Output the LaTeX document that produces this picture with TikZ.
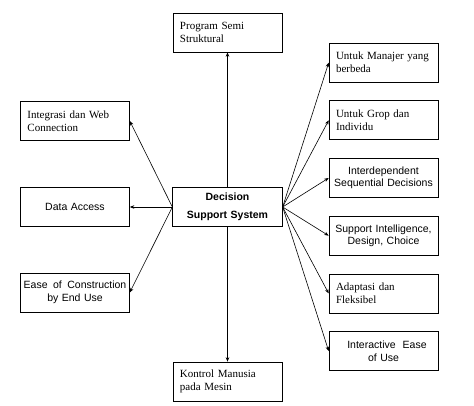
\documentclass[tikz,border=0pt]{standalone}
\usepackage{fontspec}
\setmainfont{Liberation Serif}
\setsansfont{Liberation Sans}
\usetikzlibrary{positioning,arrows.meta}
\def\boxwid{109pt}
\def\boxhgt{39pt}
\def\colgapl{152.5pt}
\def\colgapr{156pt}
\def\rowgap{57.7pt}

\begin{document}
\begin{tikzpicture}[
            on grid,
            txtbox/.style={%
                rectangle, draw=black, line width=0.6pt,%
                minimum width=\boxwid, minimum height=\boxhgt,%
                inner xsep=7pt, text width=95pt, align=left,%
                font=\rmfamily\fontsize{11}{13}\selectfont%
            },
            sansbox/.style={%
                rectangle, draw=black, line width=0.6pt,%
                minimum width=\boxwid, minimum height=\boxhgt,%
                inner xsep=2pt, text width=105pt, align=center,%
                font=\sffamily\fontsize{10.5}{12.5}\selectfont%
            },
            hub/.style={%
                rectangle, draw=black, line width=0.6pt,%
                minimum width=\boxwid, minimum height=\boxhgt,%
                text width=103pt, align=center,%
                font=\sffamily\bfseries\fontsize{10.5}{12}\selectfont%
            },
            arrow/.style={line width=0.6pt,-{Stealth[length=4.5pt,width=3.5pt]}}
        ]

        % Define nodes
        \node (dss) [hub] {%
            Decision\\[6pt]
            Support System
        };

        \node (prog) [txtbox, above=174.5pt of dss] {%
            Program Semi\\
            Struktural
        };
        \node (kontrol) [txtbox, below=174.5pt of dss] {%
            Kontrol Manusia\\
            pada Mesin
        };

        % left column
        \node (data) [sansbox, left=\colgapl of dss] {Data Access};
        \node (integ) [txtbox, above=86pt of data] {%
            Integrasi dan Web\\
            Connection
        };
        \node (ease) [sansbox, below=85.5pt of data] {%
            \mbox{Ease\hspace{2pt} of\hspace{2pt} Construction}\\
            by End Use
        };

        % right column
        \node (interdep) [sansbox, above right=29pt and \colgapr of dss] {%
            Interdependent\\
            Sequential Decisions
        };
        \node (grop) [txtbox, above=\rowgap of interdep] {%
            Untuk Grop dan\\
            Individu
        };
        \node (manajer) [txtbox, above=\rowgap of grop] {%
            Untuk Manajer yang\\
            berbeda
        };
        \node (suppint) [sansbox, below=\rowgap of interdep] {%
            Support Intelligence,\\
            Design, Choice
        };
        \node (adapt) [txtbox, below=\rowgap of suppint] {%
            Adaptasi dan\\
            Fleksibel
        };
        \node (interact) [sansbox, below=\rowgap of adapt] {%
            ~~Interactive~ Ease\\
            of Use
        };

        \useasboundingbox ([shift={(-227.5pt,-199pt)}]dss.center) rectangle ++(474pt,406pt);

        \draw [arrow] (dss) -- (prog);
        \draw [arrow] (dss) -- (kontrol);
        \draw [arrow] (dss.west) -- (integ.east);
        \draw [arrow] (dss.west) -- (data.east);
        \draw [arrow] (dss.west) -- (ease.east);
        \draw [arrow] (dss.east) -- (manajer.west);
        \draw [arrow] (dss.east) -- (grop.west);
        \draw [arrow] (dss.east) -- (interdep.west);
        \draw [arrow] (dss.east) -- (suppint.west);
        \draw [arrow] (dss.east) -- (adapt.west);
        \draw [arrow] (dss.east) -- (interact.west);

        \end{tikzpicture}
\end{document}
